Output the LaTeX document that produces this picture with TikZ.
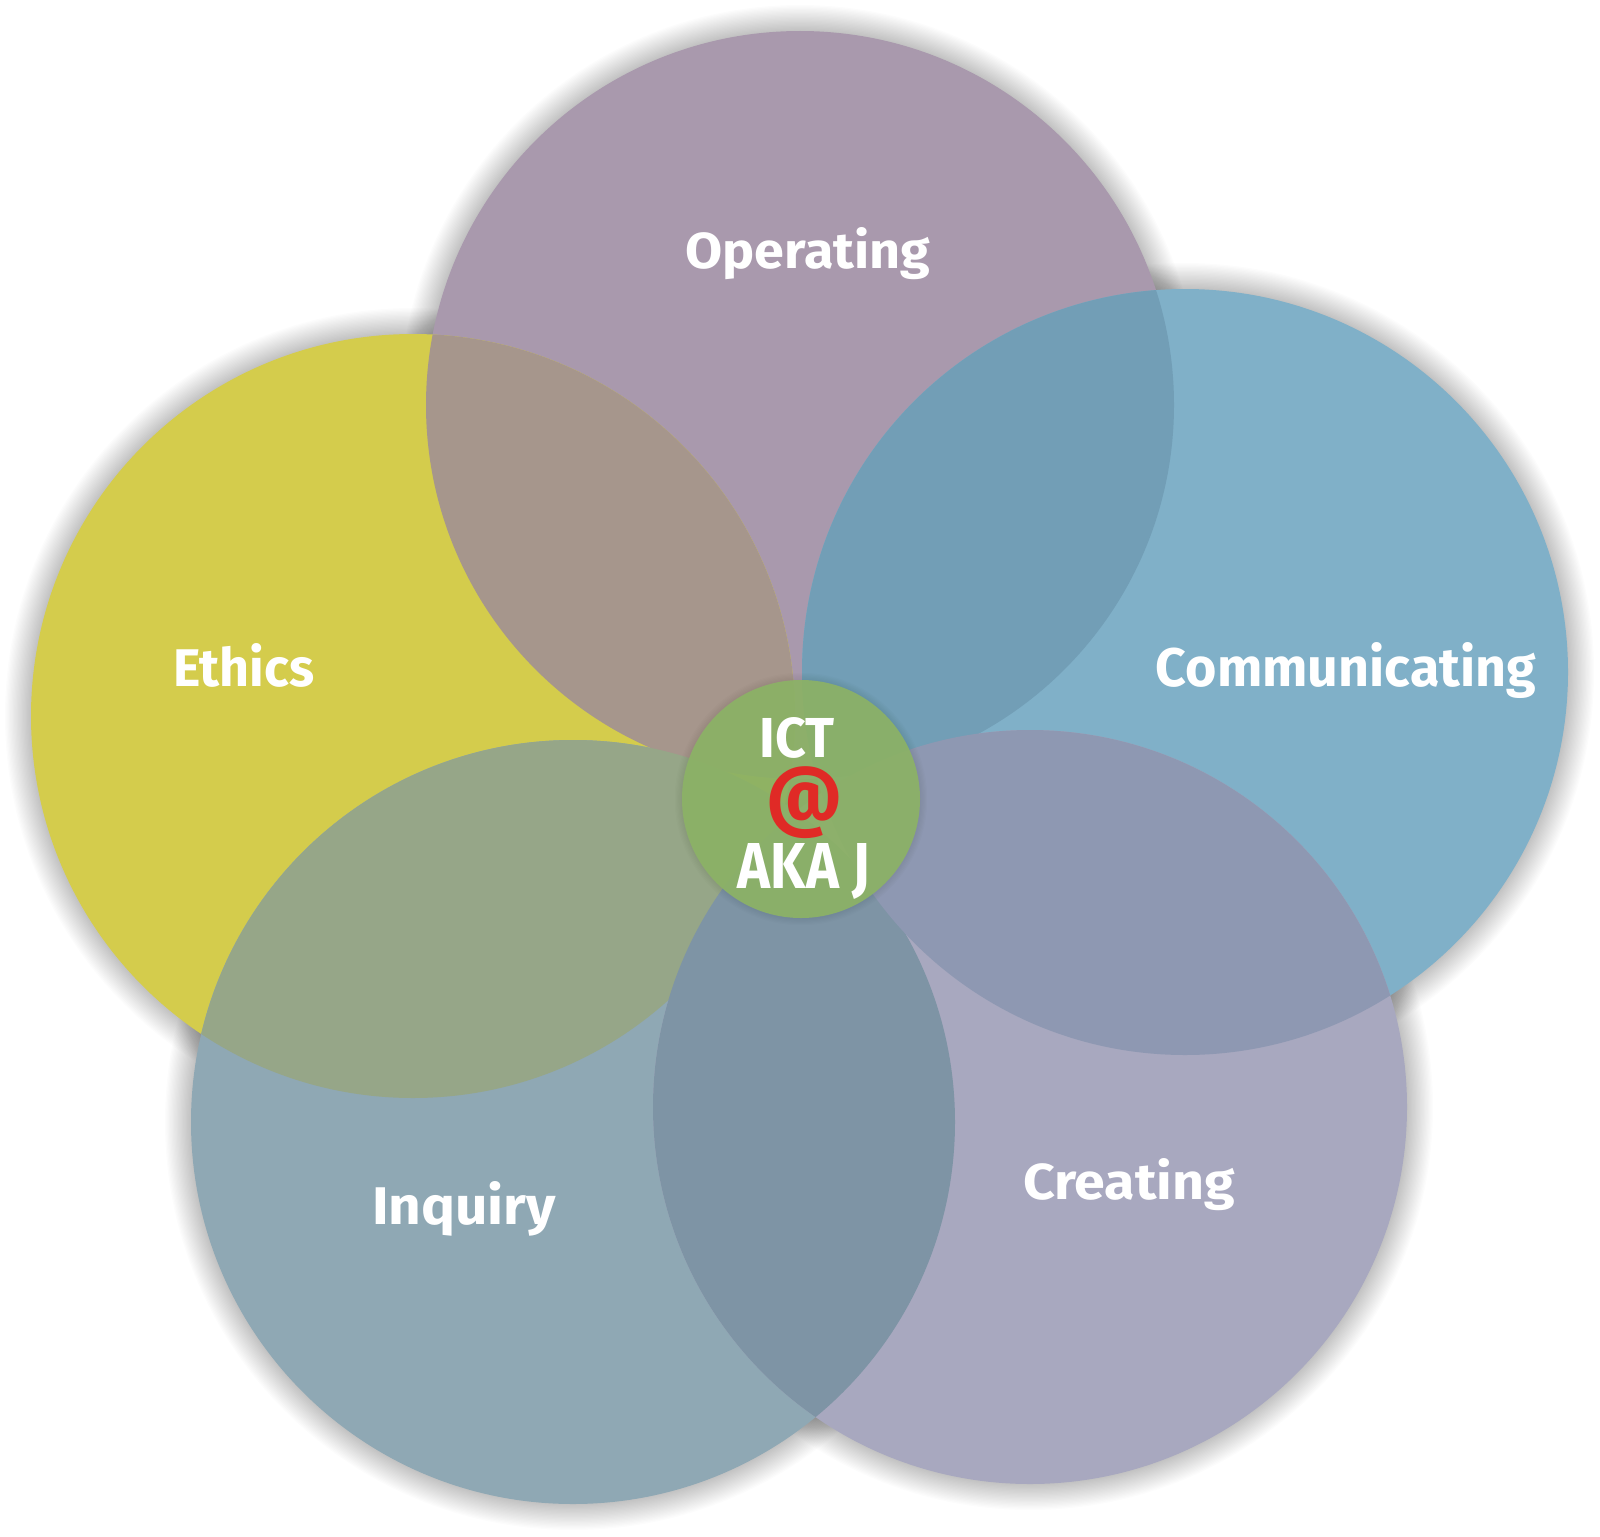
\documentclass[tikz,border=0pt]{standalone}
\usepackage{fontspec}
\setmainfont{Fira Sans}
\usepackage{graphicx}
\definecolor{opC}{HTML}{A999AD}
\definecolor{etC}{HTML}{D4CC4C}
\definecolor{cmC}{HTML}{80B0C8}
\definecolor{inC}{HTML}{8FA8B4}
\definecolor{crC}{HTML}{A8A8BF}
\definecolor{oeC}{HTML}{A6968C}
\definecolor{ocC}{HTML}{729EB6}
\definecolor{eiC}{HTML}{96A688}
\definecolor{ciC}{HTML}{7E94A5}
\definecolor{ccC}{HTML}{8E98B2}
\definecolor{ctC}{HTML}{8CB266}
\definecolor{atC}{HTML}{E02A26}
\newcommand{\fitT}[3]{\resizebox{#1pt}{#2pt}{\bfseries #3}}
\begin{document}
\begin{tikzpicture}[x=0.5pt,y=-0.5pt,
  lab/.style={text=white, inner sep=0pt, anchor=base},
  glow/.style={fill=black, opacity=0.011}]
\useasboundingbox (0,0) rectangle (1600,1536);
\fill[white] (0,0) rectangle (1600,1536);
% centres
\coordinate (O) at (800,405);
\coordinate (E) at (413,716);
\coordinate (Cm) at (1185,672);
\coordinate (I) at (573,1122);
\coordinate (Cr) at (1030,1107);
\coordinate (K) at (801,799);
\def\rO{374}\def\rE{382}\def\rCm{383}\def\rI{382}\def\rCr{377}
% soft glow
\foreach \k in {1,...,20}{
  \fill[glow] (O) circle[radius=\rO+1.3*\k];
  \fill[glow] (E) circle[radius=\rE+1.3*\k];
  \fill[glow] (Cm) circle[radius=\rCm+1.3*\k];
  \fill[glow] (I) circle[radius=\rI+1.3*\k];
  \fill[glow] (Cr) circle[radius=\rCr+1.3*\k];
}
% circles
\fill[opC] (O) circle[radius=\rO];
\fill[etC] (E) circle[radius=\rE];
\fill[cmC] (Cm) circle[radius=\rCm];
\fill[inC] (I) circle[radius=\rI];
\fill[crC] (Cr) circle[radius=\rCr];
% overlaps
\begin{scope}\clip (O) circle[radius=\rO]; \fill[oeC] (E) circle[radius=\rE];\end{scope}
\begin{scope}\clip (O) circle[radius=\rO]; \fill[ocC] (Cm) circle[radius=\rCm];\end{scope}
\begin{scope}\clip (E) circle[radius=\rE]; \fill[eiC] (I) circle[radius=\rI];\end{scope}
\begin{scope}\clip (Cr) circle[radius=\rCr]; \fill[ciC] (I) circle[radius=\rI];\end{scope}
\begin{scope}\clip (Cr) circle[radius=\rCr]; \fill[ccC] (Cm) circle[radius=\rCm];\end{scope}
% centre circle
\foreach \k in {1,...,6}{\fill[glow] (K) circle[radius=119+1.2*\k];}
\fill[ctC, opacity=0.93] (K) circle[radius=119];
% labels
\node[lab] (op) at (808,268) {\fitT{122.5}{20.5}{Operating}};
\node[lab] (et) at (244,686) {\fitT{70.5}{21.5}{Ethics}};
\node[lab] (cm) at (1346,686) {\fitT{190}{22}{Communicating}};
\node[lab] (in) at (464,1224) {\fitT{92}{21.5}{Inquiry}};
\node[lab] (cr) at (1129,1199) {\fitT{106}{20.5}{Creating}};
\node[lab] (ict) at (797,757) {\fitT{37.5}{20}{ICT}};
\node[text=atC, inner sep=0pt] (at) at (804,803) {\resizebox*{38pt}{36pt}{\bfseries @}};
\node[lab] (aka) at (804,888) {\fitT{66}{22.5}{AKA J}};
\end{tikzpicture}
\end{document}
